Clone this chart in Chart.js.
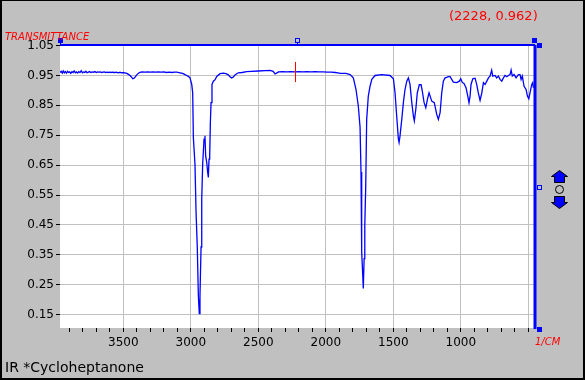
<!DOCTYPE html>
<html>
<head>
<meta charset="utf-8">
<script src="https://cdn.jsdelivr.net/npm/chart.js@4.4.1/dist/chart.umd.min.js"></script>
<style>
  html, body { margin: 0; padding: 0; background: #c0c0c0; }
  canvas { display: block; }
</style>
</head>
<body>
<canvas id="irChart" width="585" height="380"></canvas>
<script>
// spectrum (1/cm, transmittance)
const wavenumbers = [
  3969, 3960, 3952, 3945, 3937, 3930, 3921, 3913, 3905, 3897, 3889, 3880, 3872, 3864, 3855, 3847,
  3838, 3830, 3821, 3812, 3803, 3795, 3786, 3777, 3768, 3759, 3750, 3740, 3730, 3720, 3710, 3700,
  3690, 3680, 3670, 3660, 3650, 3640, 3630, 3620, 3610, 3600, 3590, 3580, 3570, 3560, 3550, 3540,
  3530, 3520, 3510, 3500, 3490, 3480, 3470, 3460, 3450, 3440, 3430, 3420, 3410, 3400, 3390, 3380,
  3370, 3360, 3340, 3320, 3300, 3280, 3260, 3240, 3220, 3200, 3180, 3160, 3140, 3120, 3104, 3080,
  3060, 3043, 3030, 3018, 3006, 2993, 2986, 2981, 2969, 2961, 2952, 2944, 2937, 2932, 2924, 2919,
  2912, 2902, 2895, 2890, 2882, 2875, 2870, 2865, 2860, 2855, 2850, 2843, 2833, 2820, 2808, 2783,
  2760, 2740, 2722, 2710, 2697, 2685, 2672, 2660, 2648, 2620, 2586, 2550, 2500, 2450, 2413, 2390,
  2376, 2365, 2350, 2320, 2290, 2260, 2228, 2200, 2170, 2140, 2110, 2080, 2050, 2020, 1990, 1960,
  1930, 1910, 1894, 1850, 1820, 1796, 1776, 1759, 1746, 1739, 1734, 1726, 1722, 1716, 1711, 1704,
  1697, 1685, 1672, 1659, 1635, 1585, 1524, 1499, 1487, 1474, 1462, 1457, 1450, 1437, 1425, 1413,
  1400, 1388, 1376, 1363, 1351, 1344, 1333, 1322, 1307, 1294, 1285, 1272, 1259, 1247, 1235, 1227,
  1215, 1196, 1178, 1166, 1153, 1141, 1129, 1116, 1104, 1092, 1079, 1055, 1030, 1010, 1000, 988,
  976, 961, 948, 939, 931, 924, 911, 894, 882, 870, 857, 844, 832, 820, 807, 795,
  783, 771, 763, 746, 734, 721, 709, 696, 684, 672, 659, 647, 635, 627, 618, 605,
  590, 573, 561, 553, 544, 531, 516, 506, 496, 487, 474, 467, 462
];
const transmittance = [
  0.960, 0.964, 0.958, 0.965, 0.959, 0.963, 0.958, 0.964, 0.960, 0.962, 0.957, 0.963, 0.960, 0.965, 0.959, 0.962,
  0.958, 0.963, 0.960, 0.966, 0.959, 0.962, 0.960, 0.964, 0.959, 0.961, 0.963, 0.960, 0.962, 0.961, 0.963, 0.960,
  0.962, 0.961, 0.962, 0.960, 0.961, 0.962, 0.960, 0.961, 0.960, 0.961, 0.960, 0.961, 0.960, 0.960, 0.961, 0.959,
  0.960, 0.960, 0.959, 0.960, 0.959, 0.958, 0.956, 0.953, 0.950, 0.945, 0.939, 0.941, 0.946, 0.952, 0.957, 0.960,
  0.961, 0.962, 0.961, 0.962, 0.961, 0.962, 0.961, 0.962, 0.961, 0.962, 0.960, 0.961, 0.960, 0.961, 0.961, 0.959,
  0.957, 0.953, 0.950, 0.947, 0.942, 0.920, 0.892, 0.742, 0.653, 0.492, 0.376, 0.214, 0.153, 0.214, 0.376, 0.536,
  0.653, 0.737, 0.748, 0.681, 0.659, 0.626, 0.609, 0.670, 0.681, 0.792, 0.859, 0.920, 0.931, 0.936, 0.947, 0.956,
  0.958, 0.956, 0.952, 0.946, 0.942, 0.945, 0.952, 0.956, 0.959, 0.960, 0.963, 0.964, 0.965, 0.966, 0.967, 0.964,
  0.955, 0.958, 0.962, 0.963, 0.962, 0.963, 0.962, 0.963, 0.962, 0.963, 0.962, 0.963, 0.962, 0.962, 0.961, 0.961,
  0.960, 0.959, 0.957, 0.957, 0.953, 0.942, 0.903, 0.848, 0.777, 0.627, 0.360, 0.280, 0.237, 0.337, 0.447, 0.580,
  0.803, 0.881, 0.914, 0.937, 0.950, 0.953, 0.950, 0.939, 0.893, 0.810, 0.737, 0.726, 0.748, 0.803, 0.860, 0.903,
  0.931, 0.942, 0.920, 0.860, 0.814, 0.798, 0.837, 0.892, 0.919, 0.919, 0.898, 0.860, 0.842, 0.870, 0.892, 0.881,
  0.864, 0.859, 0.820, 0.803, 0.826, 0.892, 0.931, 0.942, 0.944, 0.946, 0.946, 0.928, 0.926, 0.931, 0.939, 0.926,
  0.923, 0.909, 0.881, 0.859, 0.881, 0.920, 0.939, 0.941, 0.920, 0.892, 0.867, 0.892, 0.926, 0.920, 0.931, 0.942,
  0.948, 0.968, 0.948, 0.950, 0.942, 0.948, 0.937, 0.931, 0.942, 0.950, 0.946, 0.950, 0.953, 0.968, 0.948, 0.953,
  0.942, 0.953, 0.953, 0.937, 0.948, 0.914, 0.903, 0.881, 0.872, 0.892, 0.920, 0.926, 0.909
];

const xTicks = [3900, 3800, 3700, 3600, 3500, 3400, 3300, 3200, 3100, 3000, 2900, 2800, 2700, 2600, 2500, 2400, 2300, 2200,
  2100, 2000, 1900, 1800, 1700, 1600, 1500, 1400, 1300, 1200, 1100, 1000, 900, 800, 700, 600, 500];
const xLabelled = [3500, 3000, 2500, 2000, 1500, 1000];
const yTicks = [0.15, 0.25, 0.35, 0.45, 0.55, 0.65, 0.75, 0.85, 0.95, 1.05];
const cursor = [2228, 0.962];
const spectrumName = 'IR *Cycloheptanone';
const yUnit = 'TRANSMITTANCE';
const xUnit = '1/CM';

const BLUE = '#0000ff';

function seg(ctx, x1, y1, x2, y2) {
  ctx.beginPath();
  ctx.moveTo(x1, y1);
  ctx.lineTo(x2, y2);
  ctx.stroke();
}

function arrow(ctx, cx, tipY, dir) {
  // dir -1 = up, 1 = down
  const b = tipY - dir * 6, e = b - dir * 6;
  ctx.beginPath();
  ctx.moveTo(cx, tipY);
  ctx.lineTo(cx + 8, b);
  ctx.lineTo(cx + 5, b);
  ctx.lineTo(cx + 5, e);
  ctx.lineTo(cx - 5, e);
  ctx.lineTo(cx - 5, b);
  ctx.lineTo(cx - 8, b);
  ctx.closePath();
  ctx.fillStyle = BLUE;
  ctx.fill();
  ctx.strokeStyle = '#000';
  ctx.lineWidth = 1;
  ctx.stroke();
}

const frame = {
  id: 'frame',
  beforeDraw(chart) {
    const { ctx, chartArea: a } = chart;
    ctx.save();
    ctx.fillStyle = '#c0c0c0';
    ctx.fillRect(0, 0, chart.width, chart.height);
    ctx.fillStyle = '#ffffff';
    ctx.fillRect(a.left, a.top, a.right - a.left, a.bottom - a.top);
    ctx.restore();
  },
  afterDraw(chart) {
    const { ctx, chartArea: a } = chart;
    const xs = chart.scales.x, ys = chart.scales.y;
    ctx.save();

    // cursor
    const cx = Math.round(xs.getPixelForValue(cursor[0]));
    const cTop = Math.round(ys.getPixelForValue(cursor[1] + 0.034));
    const cBot = Math.round(ys.getPixelForValue(cursor[1] - 0.034));
    ctx.fillStyle = '#ff0000';
    ctx.fillRect(cx, cTop, 1, cBot - cTop);

    // blue frame bars
    ctx.strokeStyle = BLUE;
    ctx.lineWidth = 2;
    seg(ctx, a.left, a.top, a.right, a.top);
    ctx.lineWidth = 3;
    seg(ctx, a.right, a.top, a.right, a.bottom + 1);
    ctx.lineWidth = 1;
    seg(ctx, a.left + 0.5, a.top - 3, a.left + 0.5, a.top);
    seg(ctx, cx + 2.5, a.top - 3, cx + 2.5, a.top);

    ctx.fillStyle = BLUE;
    ctx.fillRect(a.left - 2, a.top - 7, 5, 5);
    ctx.fillRect(a.right - 3, a.top - 7, 5, 5);
    ctx.fillRect(a.right + 2, a.top - 2, 5, 5);
    ctx.fillRect(a.right + 2, a.bottom - 1, 5, 5);
    ctx.strokeRect(cx + 0.5, a.top - 6.5, 4, 4);
    ctx.strokeRect(a.right + 2.5, 185.5, 4, 4);

    // scroll arrows
    arrow(ctx, 559.5, 170.5, -1);
    arrow(ctx, 559.5, 208.5, 1);
    ctx.beginPath();
    ctx.arc(559.5, 189.5, 4, 0, Math.PI * 2);
    ctx.strokeStyle = '#000';
    ctx.stroke();

    // texts
    ctx.fillStyle = '#ff0000';
    ctx.textBaseline = 'alphabetic';
    ctx.textAlign = 'left';
    ctx.font = 'italic 10px "DejaVu Sans"';
    ctx.fillText(yUnit, 5, 40);
    ctx.fillText(xUnit, 535, 345);
    ctx.font = '13px "DejaVu Sans"';
    ctx.fillText('(' + cursor[0] + ', ' + cursor[1].toFixed(3) + ')', 449, 20);
    ctx.fillStyle = '#000';
    ctx.font = '14px "DejaVu Sans"';
    ctx.fillText(spectrumName, 5, 372);

    // outer border
    ctx.fillStyle = '#000';
    ctx.fillRect(0, 0, chart.width, 1);
    ctx.fillRect(0, 0, 2, chart.height);
    ctx.fillRect(chart.width - 2, 0, 2, chart.height);
    ctx.fillRect(0, chart.height - 2, chart.width, 2);
    ctx.restore();
  }
};

Chart.defaults.font.family = '"DejaVu Sans"';
Chart.defaults.font.size = 12;
Chart.defaults.color = '#000';

new Chart(document.getElementById('irChart'), {
  type: 'line',
  data: {
    datasets: [{
      data: wavenumbers.map((w, i) => ({ x: w, y: transmittance[i] })),
      borderColor: BLUE,
      borderWidth: 1.3,
      pointRadius: 0,
      tension: 0,
      fill: false
    }]
  },
  options: {
    responsive: false,
    animation: false,
    devicePixelRatio: 1,
    layout: { padding: { left: 0, top: 45, right: 50, bottom: 22 } },
    plugins: { legend: { display: false }, tooltip: { enabled: false } },
    scales: {
      x: {
        type: 'linear',
        reverse: true,
        min: 450,
        max: 3969,
        afterFit: s => { s.height = 30; },
        afterBuildTicks: s => { s.ticks = xTicks.map(v => ({ value: v })); },
        border: { display: false },
        grid: {
          color: c => (c.tick && c.tick.value % 500 === 0) ? '#c0c0c0' : 'rgba(0,0,0,0)',
          tickColor: '#000',
          tickLength: 4,
          lineWidth: 1
        },
        ticks: {
          autoSkip: false,
          minRotation: 0,
          maxRotation: 0,
          padding: 4,
          callback: v => xLabelled.includes(v) ? String(v) : ''
        }
      },
      y: {
        min: 0.105,
        max: 1.052,
        afterFit: s => { s.width = 60; },
        afterBuildTicks: s => { s.ticks = yTicks.map(v => ({ value: v })); },
        border: { display: false },
        grid: { color: '#c0c0c0', tickColor: '#000', tickLength: 4, lineWidth: 1 },
        ticks: { padding: 2, callback: v => v.toFixed(2) }
      }
    }
  },
  plugins: [frame]
});
</script>
</body>
</html>
